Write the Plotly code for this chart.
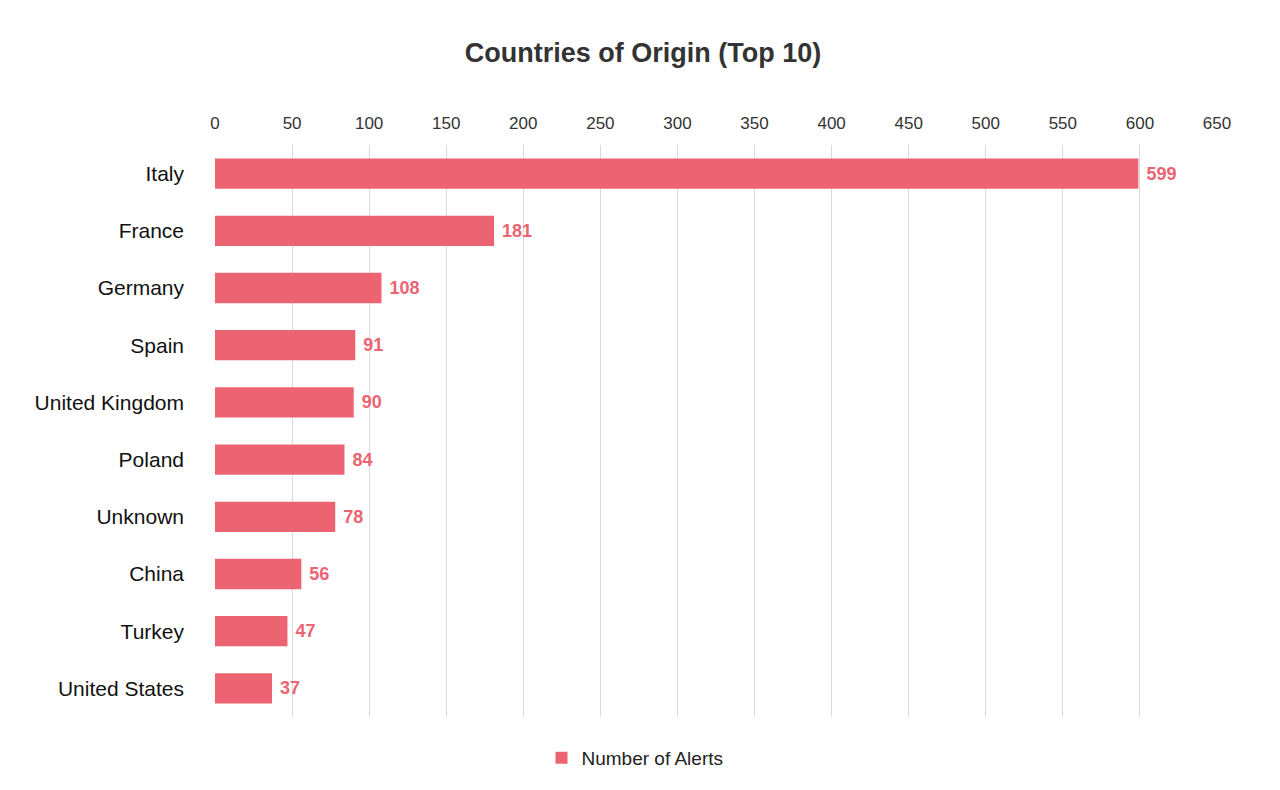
import plotly.graph_objects as go

countries = ["Italy", "France", "Germany", "Spain", "United Kingdom", "Poland",
             "Unknown", "China", "Turkey", "United States"]
alerts = [599, 181, 108, 91, 90, 84, 78, 56, 47, 37]
x_ticks = list(range(0, 651, 50))

BAR = "#EC6471"
FONT = "Arial, Liberation Sans, sans-serif"

fig = go.Figure()
fig.add_trace(go.Bar(
    y=countries, x=alerts, orientation="h",
    name="Number of Alerts",
    marker=dict(color=BAR, line=dict(width=0)),
    text=alerts, texttemplate=" %{x}", textposition="outside",
    textfont=dict(family=FONT, size=18, color=BAR, weight="bold"),
    cliponaxis=False,
))

fig.update_layout(
    width=1280, height=790,
    margin=dict(l=215, r=63, t=145, b=73),
    paper_bgcolor="white", plot_bgcolor="white",
    title=dict(text="<b>Countries of Origin (Top 10)</b>", x=(468 + 818) / 2 / 1280, xanchor="center",
               y=1 - 53/790, yanchor="middle",
               font=dict(family=FONT, size=27, color="#333333")),
    font=dict(family=FONT, color="#222222"),
    bargap=0.47,
    showlegend=True,
    legend=dict(orientation="h", x=(635 - 215) / 1002, xanchor="center", y=-41/572, yanchor="middle",
                font=dict(family=FONT, size=19, color="#222222"), itemwidth=30),
    xaxis=dict(side="top", range=[0, 650], tickvals=x_ticks, ticktext=[str(v) for v in x_ticks],
               showgrid=True, gridcolor="#D9D9D9", gridwidth=1, zeroline=False,
               showline=False, ticks="", ticklabelstandoff=12,
               tickfont=dict(family=FONT, size=17, color="#333333")),
    yaxis=dict(categoryorder="array", categoryarray=countries, autorange="reversed",
               showgrid=False, showline=False, ticks="", ticklabelstandoff=30,
               tickfont=dict(family=FONT, size=21, color="#111111")),
)

fig.write_html("out.html")
